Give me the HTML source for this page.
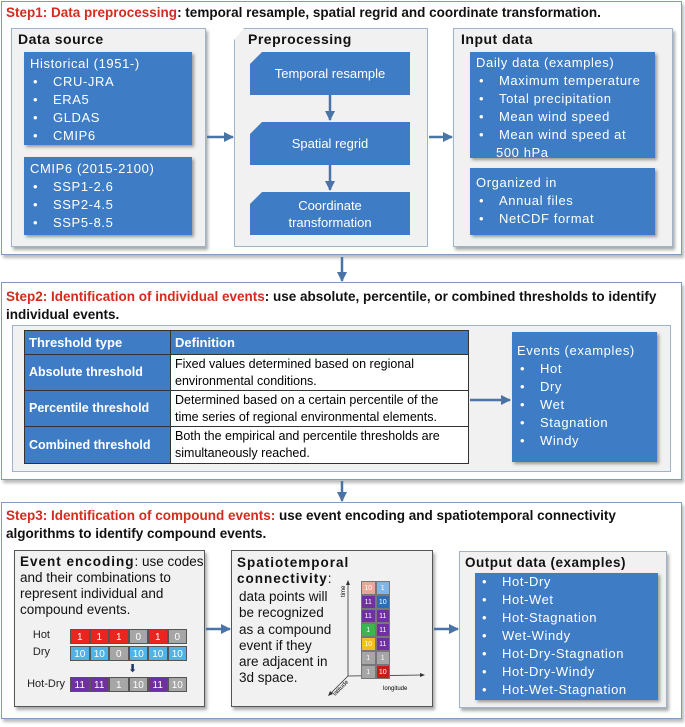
<!DOCTYPE html>
<html><head><meta charset="utf-8"><style>
*{margin:0;padding:0;box-sizing:border-box}
body{width:685px;height:727px;background:#fff;font-family:"Liberation Sans",Arial,sans-serif;position:relative;overflow:hidden}
.a{position:absolute}
.panel{position:absolute;border:1.5px solid #7f9cbf;background:#fff;box-shadow:2px 3px 3px #bbb}
.gbox{position:absolute;background:#f1f1f1;border:1.5px solid #9fb3cc;box-shadow:2px 3px 3px #aaa}
.blue{position:absolute;background:#3f7cc6;color:#fff;font-size:13px;letter-spacing:0.6px;line-height:18px;box-shadow:2px 2px 3px #999}
.ttl{position:absolute;font-weight:bold;font-size:13.5px;color:#111}
.red{color:#d42b1e}
.h{font-weight:bold;font-size:14px;letter-spacing:0.5px;color:#111;position:absolute}
ul{list-style:none}
li:before{content:"•";display:inline-block;width:20px;padding-left:3px}
.pb{position:absolute;left:250px;width:160px;height:43px;background:#3f7cc6;color:#fff;font-size:13px;text-align:center;display:flex;align-items:center;justify-content:center;clip-path:polygon(12px 0,100% 0,100% 100%,0 100%,0 12px);line-height:17px}
table{border-collapse:collapse;font-size:12.5px}
td{border:1px solid #333;padding:0 4px;line-height:17px}
td.k{background:#3f7cc6;color:#fff;font-weight:bold;width:146px}
.cells{position:absolute;display:flex;left:70px;height:15px}
.cells div{width:19.5px;height:15px;color:#fff;font-size:10px;text-align:center;line-height:15px;border:1px solid #555}
.R{background:#e8261f}.G{background:#a6a6a6}.B{background:#4fb3e8}.P{background:#7030a0}
.lab{position:absolute;font-size:11px;color:#222;text-align:right;width:50px}
.st{position:absolute;display:flex}
.st div{width:14.5px;height:14px;font-size:7px;color:#fff;text-align:center;line-height:14px;border:0.5px solid #777}
</style></head><body>

<!-- Step1 -->
<div class="panel" style="left:1px;top:1px;width:681px;height:254px"></div>
<div class="ttl" style="left:6px;top:5px"><span class="red">Step1: Data preprocessing</span>: temporal resample, spatial regrid and coordinate transformation.</div>
<div class="gbox" style="left:11px;top:28px;width:195px;height:219px"></div>
<div class="h" style="left:18px;top:31px">Data source</div>
<div class="blue" style="left:24px;top:52px;width:168px;height:93px;padding:3px 6px"><div>Historical (1951-)</div><ul><li>CRU-JRA</li><li>ERA5</li><li>GLDAS</li><li>CMIP6</li></ul></div>
<div class="blue" style="left:24px;top:157px;width:168px;height:78px;padding:3px 6px"><div>CMIP6 (2015-2100)</div><ul><li>SSP1-2.6</li><li>SSP2-4.5</li><li>SSP5-8.5</li></ul></div>
<div class="gbox" style="left:234px;top:28px;width:194px;height:219px;clip-path:polygon(10px 0,100% 0,100% 100%,0 100%,0 12px);box-shadow:none;border-color:#9fb3cc"></div>
<div class="h" style="left:248px;top:31px">Preprocessing</div>
<div class="pb" style="top:52px">Temporal resample</div>
<div class="pb" style="top:122px">Spatial regrid</div>
<div class="pb" style="top:192px">Coordinate<br>transformation</div>
<div class="gbox" style="left:453px;top:28px;width:220px;height:219px"></div>
<div class="h" style="left:461px;top:31px">Input data</div>
<div class="blue" style="left:470px;top:52px;width:185px;height:106px;padding:2px 6px"><div>Daily data (examples)</div><ul><li>Maximum temperature</li><li>Total precipitation</li><li>Mean wind speed</li><li>Mean wind speed at<br><span style="padding-left:20px">500 hPa</span></li></ul></div>
<div class="blue" style="left:470px;top:168px;width:185px;height:67px;padding:6px 6px"><div>Organized in</div><ul><li>Annual files</li><li>NetCDF format</li></ul></div>

<!-- Step2 -->
<div class="panel" style="left:1px;top:282px;width:681px;height:198px"></div>
<div class="ttl" style="left:6px;top:288px;line-height:18px"><span class="red">Step2: Identification of individual events</span>: use absolute, percentile, or combined thresholds to identify<br>individual events.</div>
<div class="gbox" style="left:12px;top:325px;width:659px;height:147px;box-shadow:none"></div>
<table class="a" style="left:24px;top:330px;width:445px">
<tr style="height:24px"><td class="k" style="font-size:13px">Threshold type</td><td class="k" style="width:auto;font-size:13px">Definition</td></tr>
<tr style="height:36px"><td class="k">Absolute threshold</td><td style="background:#fff">Fixed values determined based on regional environmental conditions.</td></tr>
<tr style="height:36px"><td class="k">Percentile threshold</td><td style="background:#fff">Determined based on a certain percentile of the time series of regional environmental elements.</td></tr>
<tr style="height:37px"><td class="k">Combined threshold</td><td style="background:#fff">Both the empirical and percentile thresholds are simultaneously reached.</td></tr>
</table>
<div class="blue" style="left:512px;top:332px;width:145px;height:130px;padding:10px 5px"><div>Events (examples)</div><ul><li>Hot</li><li>Dry</li><li>Wet</li><li>Stagnation</li><li>Windy</li></ul></div>

<!-- Step3 -->
<div class="panel" style="left:1px;top:502px;width:681px;height:217px"></div>
<div class="ttl" style="left:6px;top:507px;line-height:18px"><span class="red">Step3: Identification of compound events:</span> use event encoding and spatiotemporal connectivity<br>algorithms to identify compound events.</div>
<div class="gbox" style="left:14px;top:550px;width:191px;height:157px;border-color:#555"></div>
<div class="a" style="left:20px;top:554px;font-size:13.5px;line-height:16px;color:#111;width:185px"><b style="letter-spacing:1px">Event encoding</b>: use codes and their combinations to represent individual and compound events.</div>
<div class="lab" style="left:0;top:629px">Hot</div>
<div class="cells" style="top:629px"><div class="R">1</div><div class="R">1</div><div class="R">1</div><div class="G">0</div><div class="R">1</div><div class="G">0</div></div>
<div class="lab" style="left:0;top:646px">Dry</div>
<div class="cells" style="top:646px"><div class="B">10</div><div class="B">10</div><div class="G">0</div><div class="B">10</div><div class="B">10</div><div class="B">10</div></div>
<div class="a" style="left:128px;top:662px;font-size:11px;color:#1f3864">⬇</div>
<div class="lab" style="left:15px;top:678px;width:50px">Hot-Dry</div>
<div class="cells" style="top:677px"><div class="P">11</div><div class="P">11</div><div class="G">1</div><div class="G">10</div><div class="P">11</div><div class="G">10</div></div>

<div class="gbox" style="left:231px;top:550px;width:202px;height:157px;border-color:#555"></div>
<div class="a" style="left:237px;top:555px;font-size:13.5px;line-height:16px;font-weight:bold;letter-spacing:1px;color:#111">Spatiotemporal<br>connectivity<span style="font-weight:normal">:</span></div>
<div class="a" style="left:239px;top:589px;font-size:13.5px;line-height:16.3px;color:#111">data points will<br>be recognized<br>as a compound<br>event if they<br>are adjacent in<br>3d space.</div>
<svg class="a" style="left:320px;top:575px" width="110" height="130">
<line x1="28" y1="101" x2="28" y2="8" stroke="#333" stroke-width="0.8"/><polygon points="26,10 30,10 28,5" fill="#333"/>
<line x1="28" y1="101" x2="102" y2="100" stroke="#333" stroke-width="0.8"/><polygon points="100,98 100,102 105,100" fill="#333"/>
<line x1="28" y1="101" x2="9" y2="120" stroke="#333" stroke-width="0.8"/><polygon points="8,121 10,116 13,119" fill="#333"/>
<text x="0" y="0" font-size="6" transform="translate(25,22) rotate(-90)" font-family="Liberation Sans">time</text>
<text x="63" y="115" font-size="6" font-family="Liberation Sans">longitude</text>
<text x="0" y="0" font-size="6" transform="translate(15,121) rotate(-45)" font-family="Liberation Sans">latitude</text>
</svg>
<div class="st" style="left:361px;top:581px"><div style="background:#e8a898">10</div><div style="background:#7fb6e6">1</div></div>
<div class="st" style="left:361px;top:595px"><div class="P">11</div><div style="background:#2e6db4">10</div></div>
<div class="st" style="left:361px;top:609px"><div class="P">11</div><div class="P">11</div></div>
<div class="st" style="left:361px;top:623px"><div style="background:#3cb64a">1</div><div class="P">11</div></div>
<div class="st" style="left:361px;top:637px"><div style="background:#f0c020">10</div><div class="P">11</div></div>
<div class="st" style="left:361px;top:651px"><div class="G">1</div><div class="G">1</div></div>
<div class="st" style="left:361px;top:665px"><div class="G">1</div><div style="background:#c0201a">10</div></div>

<div class="gbox" style="left:459px;top:551px;width:208px;height:157px"></div>
<div class="h" style="left:465px;top:555px;font-size:13.5px">Output data (examples)</div>
<div class="blue" style="left:475px;top:573px;width:183px;height:127px;padding:0 4px"><ul><li>Hot-Dry</li><li>Hot-Wet</li><li>Hot-Stagnation</li><li>Wet-Windy</li><li>Hot-Dry-Stagnation</li><li>Hot-Dry-Windy</li><li>Hot-Wet-Stagnation</li></ul></div>

<!-- arrows -->
<svg class="a" style="left:0;top:0" width="685" height="727">
<defs><marker id="m" markerWidth="6" markerHeight="6" refX="5" refY="3" orient="auto" markerUnits="userSpaceOnUse"><path d="M0,0 L6,3 L0,6 z" fill="#4a74a5"/></marker>
<marker id="M" markerWidth="10" markerHeight="10" refX="9" refY="5" orient="auto" markerUnits="userSpaceOnUse"><path d="M0,0 L10,5 L0,10 z" fill="#4a74a5"/></marker></defs>
<g stroke="#4a74a5" stroke-width="2.5" fill="none">
<line x1="330" y1="95" x2="330" y2="120" marker-end="url(#M)"/>
<line x1="330" y1="165" x2="330" y2="190" marker-end="url(#M)"/>
<line x1="207" y1="137" x2="233" y2="137" marker-end="url(#M)"/>
<line x1="429" y1="137" x2="452" y2="137" marker-end="url(#M)"/>
<line x1="342" y1="257" x2="342" y2="281" marker-end="url(#M)"/>
<line x1="342" y1="481" x2="342" y2="501" marker-end="url(#M)"/>
<line x1="470" y1="400" x2="510" y2="400" marker-end="url(#M)"/>
<line x1="206" y1="629" x2="230" y2="629" marker-end="url(#M)"/>
<line x1="434" y1="629" x2="458" y2="629" marker-end="url(#M)"/>
</g></svg>
</body></html>
